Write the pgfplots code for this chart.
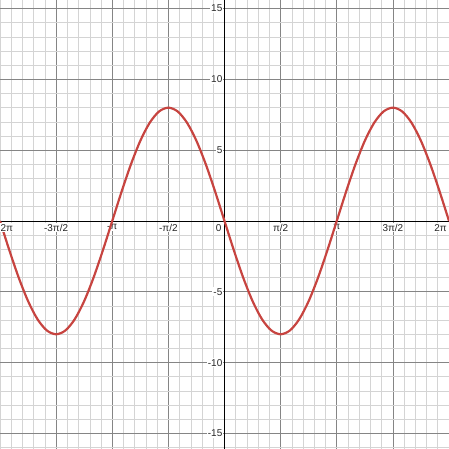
\documentclass[border=0pt]{standalone}
\usepackage{pgfplots}
\pgfplotsset{compat=1.18}
\usepackage{fontspec}
\setmainfont{Liberation Sans}
\definecolor{curvered}{HTML}{C74440}
\begin{document}
\begin{tikzpicture}
\begin{axis}[
    scale only axis,
    width=449bp, height=449bp,
    xmin=-360, xmax=360,
    ymin=-16.1, ymax=15.6,
    axis lines=middle,
    axis line style={-, black, line width=0.9pt},
    xtick={-270,-180,-90,90,180,270},
    xticklabels={-3π/2,-π,-π/2,π/2,π,3π/2},
    ytick={-15,-10,-5,5,10,15},
    yticklabels={-15,-10,-5,5,10,15},
    minor xtick={-360,-342,...,360},
    minor ytick={-16,-15,...,15},
    grid=both,
    major grid style={black!48, line width=0.6pt},
    minor grid style={black!17, line width=0.6pt},
    major tick length=0pt, minor tick length=0pt,
    tick label style={font=\fontsize{10}{12}\selectfont, text=black!85, fill=white, inner sep=1pt},
    xticklabel style={anchor=north, yshift=-2pt},
    yticklabel style={anchor=east, xshift=-1pt},
    /pgf/number format/assume math mode=true,
]
% y = -8 sin(x), x in degrees
\addplot[curvered, line width=2.2pt, smooth] coordinates {
    (-360,0) (-345,-2.0706) (-330,-4) (-315,-5.6569) (-300,-6.9282) (-285,-7.7274)
    (-270,-8) (-255,-7.7274) (-240,-6.9282) (-225,-5.6569) (-210,-4) (-195,-2.0706)
    (-180,0) (-165,2.0706) (-150,4) (-135,5.6569) (-120,6.9282) (-105,7.7274)
    (-90,8) (-75,7.7274) (-60,6.9282) (-45,5.6569) (-30,4) (-15,2.0706)
    (0,0) (15,-2.0706) (30,-4) (45,-5.6569) (60,-6.9282) (75,-7.7274)
    (90,-8) (105,-7.7274) (120,-6.9282) (135,-5.6569) (150,-4) (165,-2.0706)
    (180,0) (195,2.0706) (210,4) (225,5.6569) (240,6.9282) (255,7.7274)
    (270,8) (285,7.7274) (300,6.9282) (315,5.6569) (330,4) (345,2.0706)
    (360,0)
};
\tikzset{edgelbl/.style={font=\fontsize{10}{12}\selectfont, text=black!85, fill=white, inner sep=1pt, yshift=-2pt}}
\node[edgelbl, anchor=north east, xshift=-2pt] at (axis cs:0,0) {0};
\node[edgelbl, anchor=north west, xshift=-4pt] at (axis cs:-360,0) {-2π};
\node[edgelbl, anchor=north east, xshift=-1pt] at (axis cs:360,0) {2π};
\coordinate (bl) at (rel axis cs:0,0);
\coordinate (tr) at (rel axis cs:1,1);
\end{axis}
\pgfresetboundingbox
\useasboundingbox (bl) rectangle (tr);
\end{tikzpicture}
\end{document}
